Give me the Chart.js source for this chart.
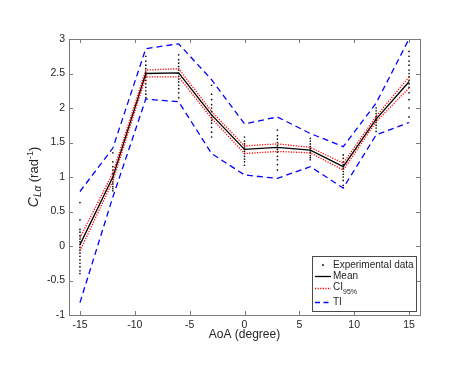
<!DOCTYPE html>
<html><head><meta charset="utf-8">
<script src="https://cdn.jsdelivr.net/npm/chart.js@4/dist/chart.umd.min.js"></script>
<style>html,body{margin:0;padding:0;background:#fff}#wrap{width:474px;height:366px;position:relative}</style>
</head><body><div id="wrap"><canvas id="c" width="474" height="366"></canvas></div>
<script>
// ---- data ----
const aoa = [-15, -12, -9, -6, -3, 0, 3, 6, 9, 12, 15];
const meanCL = [0.02, 1.00, 2.50, 2.51, 1.90, 1.40, 1.43, 1.39, 1.15, 1.84, 2.38];
const ciUpper = [0.12, 1.06, 2.55, 2.57, 1.95, 1.45, 1.48, 1.43, 1.20, 1.88, 2.45];
const ciLower = [-0.07, 0.94, 2.45, 2.45, 1.85, 1.34, 1.37, 1.35, 1.10, 1.80, 2.29];
const tiUpper = [0.79, 1.42, 2.86, 2.93, 2.41, 1.77, 1.87, 1.63, 1.44, 2.07, 3.00];
const tiLower = [-0.82, 0.71, 2.13, 2.09, 1.34, 1.03, 0.98, 1.15, 0.84, 1.61, 1.79];
// experimental samples, one list per angle of attack (same order as aoa)
const expAtM15 = [0.63, 0.38, 0.24, 0.20, 0.15, 0.10, 0.06, 0.02, -0.02, -0.06, -0.10, -0.15, -0.20, -0.25, -0.30, -0.36, -0.40];
const expAtM12 = [1.35, 1.22, 1.15, 1.10, 1.05, 1.00, 0.97, 0.93, 0.90, 0.86, 0.83, 0.80];
const expAtM9 = [2.75, 2.68, 2.62, 2.57, 2.52, 2.48, 2.45, 2.40, 2.35, 2.30, 2.25, 2.20, 2.15];
const expAtM6 = [2.77, 2.70, 2.65, 2.60, 2.55, 2.50, 2.46, 2.42, 2.38, 2.33, 2.28, 2.22, 2.15];
const expAtM3 = [2.33, 2.20, 2.12, 2.05, 2.00, 1.95, 1.90, 1.86, 1.82, 1.78, 1.72, 1.65, 1.58];
const expAt0 = [1.58, 1.52, 1.48, 1.45, 1.42, 1.40, 1.37, 1.34, 1.30, 1.26, 1.22, 1.17];
const expAt3 = [1.68, 1.60, 1.55, 1.50, 1.46, 1.43, 1.40, 1.36, 1.30, 1.25, 1.18, 1.10];
const expAt6 = [1.56, 1.52, 1.48, 1.44, 1.41, 1.38, 1.35, 1.31, 1.28, 1.25];
const expAt9 = [1.32, 1.27, 1.22, 1.18, 1.15, 1.12, 1.08, 1.04, 1.00, 0.95, 0.88];
const expAt12 = [2.00, 1.96, 1.92, 1.88, 1.85, 1.82, 1.79, 1.75, 1.71, 1.66];
const expAt15 = [2.82, 2.75, 2.68, 2.62, 2.55, 2.50, 2.45, 2.40, 2.35, 2.30, 2.22, 2.12, 2.00, 1.87];
const expLists = [expAtM15, expAtM12, expAtM9, expAtM6, expAtM3, expAt0, expAt3, expAt6, expAt9, expAt12, expAt15];
const xTicks = [-15, -10, -5, 0, 5, 10, 15];
const yTicks = [-1, -0.5, 0, 0.5, 1, 1.5, 2, 2.5, 3];
const xTitle = 'AoA (degree)';
const legendLabels = ['Experimental data', 'Mean', 'CI', 'TI'];

// ---- build ----
const FAM = '"Liberation Sans", Arial, Helvetica, sans-serif';
const TXT = '#262626';
const pts = ys => ys.map((y, i) => ({x: aoa[i], y}));
const expPts = [];
expLists.forEach((list, i) => list.forEach(v => expPts.push({x: aoa[i], y: v})));

const line = (data, color, width, dash) => ({
  data: pts(data), showLine: true, borderColor: color, borderWidth: width,
  borderDash: dash, pointRadius: 0, fill: false, tension: 0, clip: 6
});

const frame = {
  id: 'frame',
  afterDraw(chart) {
    const c = chart.ctx, a = chart.chartArea, sx = chart.scales.x, sy = chart.scales.y;
    c.save();
    c.strokeStyle = '#7a7a7a'; c.lineWidth = 1;
    c.strokeRect(Math.round(a.left) + 0.5, Math.round(a.top) + 0.5,
                 Math.round(a.right - a.left), Math.round(a.bottom - a.top));
    const tl = 4;
    c.beginPath();
    xTicks.forEach(v => {
      const px = Math.round(sx.getPixelForValue(v)) + 0.5;
      c.moveTo(px, a.bottom); c.lineTo(px, a.bottom - tl);
      c.moveTo(px, a.top); c.lineTo(px, a.top + tl);
    });
    yTicks.forEach(v => {
      const py = Math.round(sy.getPixelForValue(v)) + 0.5;
      c.moveTo(a.left, py); c.lineTo(a.left + tl, py);
      c.moveTo(a.right, py); c.lineTo(a.right - tl, py);
    });
    c.stroke();

    // x title
    c.fillStyle = TXT;
    c.font = '12px ' + FAM; c.textAlign = 'center'; c.textBaseline = 'alphabetic';
    c.fillText(xTitle, (a.left + a.right) / 2, 338);

    // y title: C_{Lα} (rad^{-1})
    const parts = [
      {t: 'C', f: 'italic 14px ' + FAM, dy: 0},
      {t: 'Lα', f: 'italic 10px ' + FAM, dy: 3},
      {t: ' (rad', f: '13px ' + FAM, dy: 0},
      {t: '-1', f: '9px ' + FAM, dy: -5},
      {t: ')', f: '13px ' + FAM, dy: 0}
    ];
    let tot = 0;
    parts.forEach(p => { c.font = p.f; p.w = c.measureText(p.t).width; tot += p.w; });
    c.save();
    c.translate(38, (a.top + a.bottom) / 2);
    c.rotate(-Math.PI / 2);
    c.textAlign = 'left'; c.textBaseline = 'alphabetic';
    let cx = -tot / 2;
    parts.forEach(p => { c.font = p.f; c.fillText(p.t, cx, p.dy); cx += p.w; });
    c.restore();

    // legend
    const L = 312, T = 256, R = 416, B = 311;
    c.fillStyle = '#fff'; c.fillRect(L, T, R - L, B - T);
    c.strokeStyle = '#4a4a4a'; c.lineWidth = 1;
    c.strokeRect(L + 0.5, T + 0.5, R - L, B - T);
    const rows = [265, 276, 288, 302];
    const x0 = 315, x1 = 331, tx = 333;
    c.fillStyle = '#000';
    c.beginPath(); c.arc(323, rows[0], 0.9, 0, Math.PI * 2); c.fill();
    c.lineWidth = 1.3; c.strokeStyle = '#000'; c.setLineDash([]);
    c.beginPath(); c.moveTo(x0, rows[1] + 0.5); c.lineTo(x1, rows[1] + 0.5); c.stroke();
    c.strokeStyle = '#ff0000'; c.lineWidth = 1.3; c.setLineDash([1.2, 1.4]);
    c.beginPath(); c.moveTo(x0, rows[2] + 0.5); c.lineTo(x1, rows[2] + 0.5); c.stroke();
    c.strokeStyle = '#0000ff'; c.lineWidth = 1.3; c.setLineDash([5, 3.5]);
    c.beginPath(); c.moveTo(x0, rows[3] + 0.5); c.lineTo(x1 + 1, rows[3] + 0.5); c.stroke();
    c.setLineDash([]);
    c.fillStyle = TXT; c.textAlign = 'left'; c.textBaseline = 'middle';
    c.font = '10px ' + FAM;
    c.fillText(legendLabels[0], tx, rows[0]);
    c.fillText(legendLabels[1], tx, rows[1]);
    c.fillText(legendLabels[2], tx, rows[2] - 1);
    const ciw = c.measureText(legendLabels[2]).width;
    c.font = '7px ' + FAM; c.fillText('95%', tx + ciw, rows[2] + 4);
    c.font = '10px ' + FAM;
    c.fillText(legendLabels[3], tx, rows[3]);
    c.restore();
  }
};

new Chart(document.getElementById('c'), {
  type: 'scatter',
  data: {
    datasets: [
      line(tiUpper, '#0000ff', 1.3, [6, 4]),
      line(tiLower, '#0000ff', 1.3, [6, 4]),
      line(ciUpper, '#ff0000', 1.3, [1.2, 1.4]),
      line(ciLower, '#ff0000', 1.3, [1.2, 1.4]),
      line(meanCL, '#000000', 1.3, []),
      {data: expPts, showLine: false, pointRadius: 0.85, pointBorderWidth: 0,
       pointBackgroundColor: '#111', pointBorderColor: '#111', clip: 6}
    ]
  },
  options: {
    responsive: false, animation: false, devicePixelRatio: 1,
    layout: {padding: {left: 0, top: 39, right: 54, bottom: 0}},
    plugins: {legend: {display: false}, tooltip: {enabled: false}},
    scales: {
      x: {
        type: 'linear', min: -16, max: 16,
        afterBuildTicks: s => { s.ticks = xTicks.map(v => ({value: v})); },
        afterFit: s => { s.height = 51; },
        grid: {display: false, drawTicks: false}, border: {display: false},
        ticks: {font: {family: FAM, size: 10.5}, color: TXT, padding: 4, maxRotation: 0,
                callback: v => String(v)}
      },
      y: {
        type: 'linear', min: -1, max: 3,
        afterBuildTicks: s => { s.ticks = yTicks.map(v => ({value: v})); },
        afterFit: s => { s.width = 69; },
        grid: {display: false, drawTicks: false}, border: {display: false},
        ticks: {font: {family: FAM, size: 10.5}, color: TXT, padding: 4,
                callback: v => String(v)}
      }
    }
  },
  plugins: [frame]
});
</script></body></html>
